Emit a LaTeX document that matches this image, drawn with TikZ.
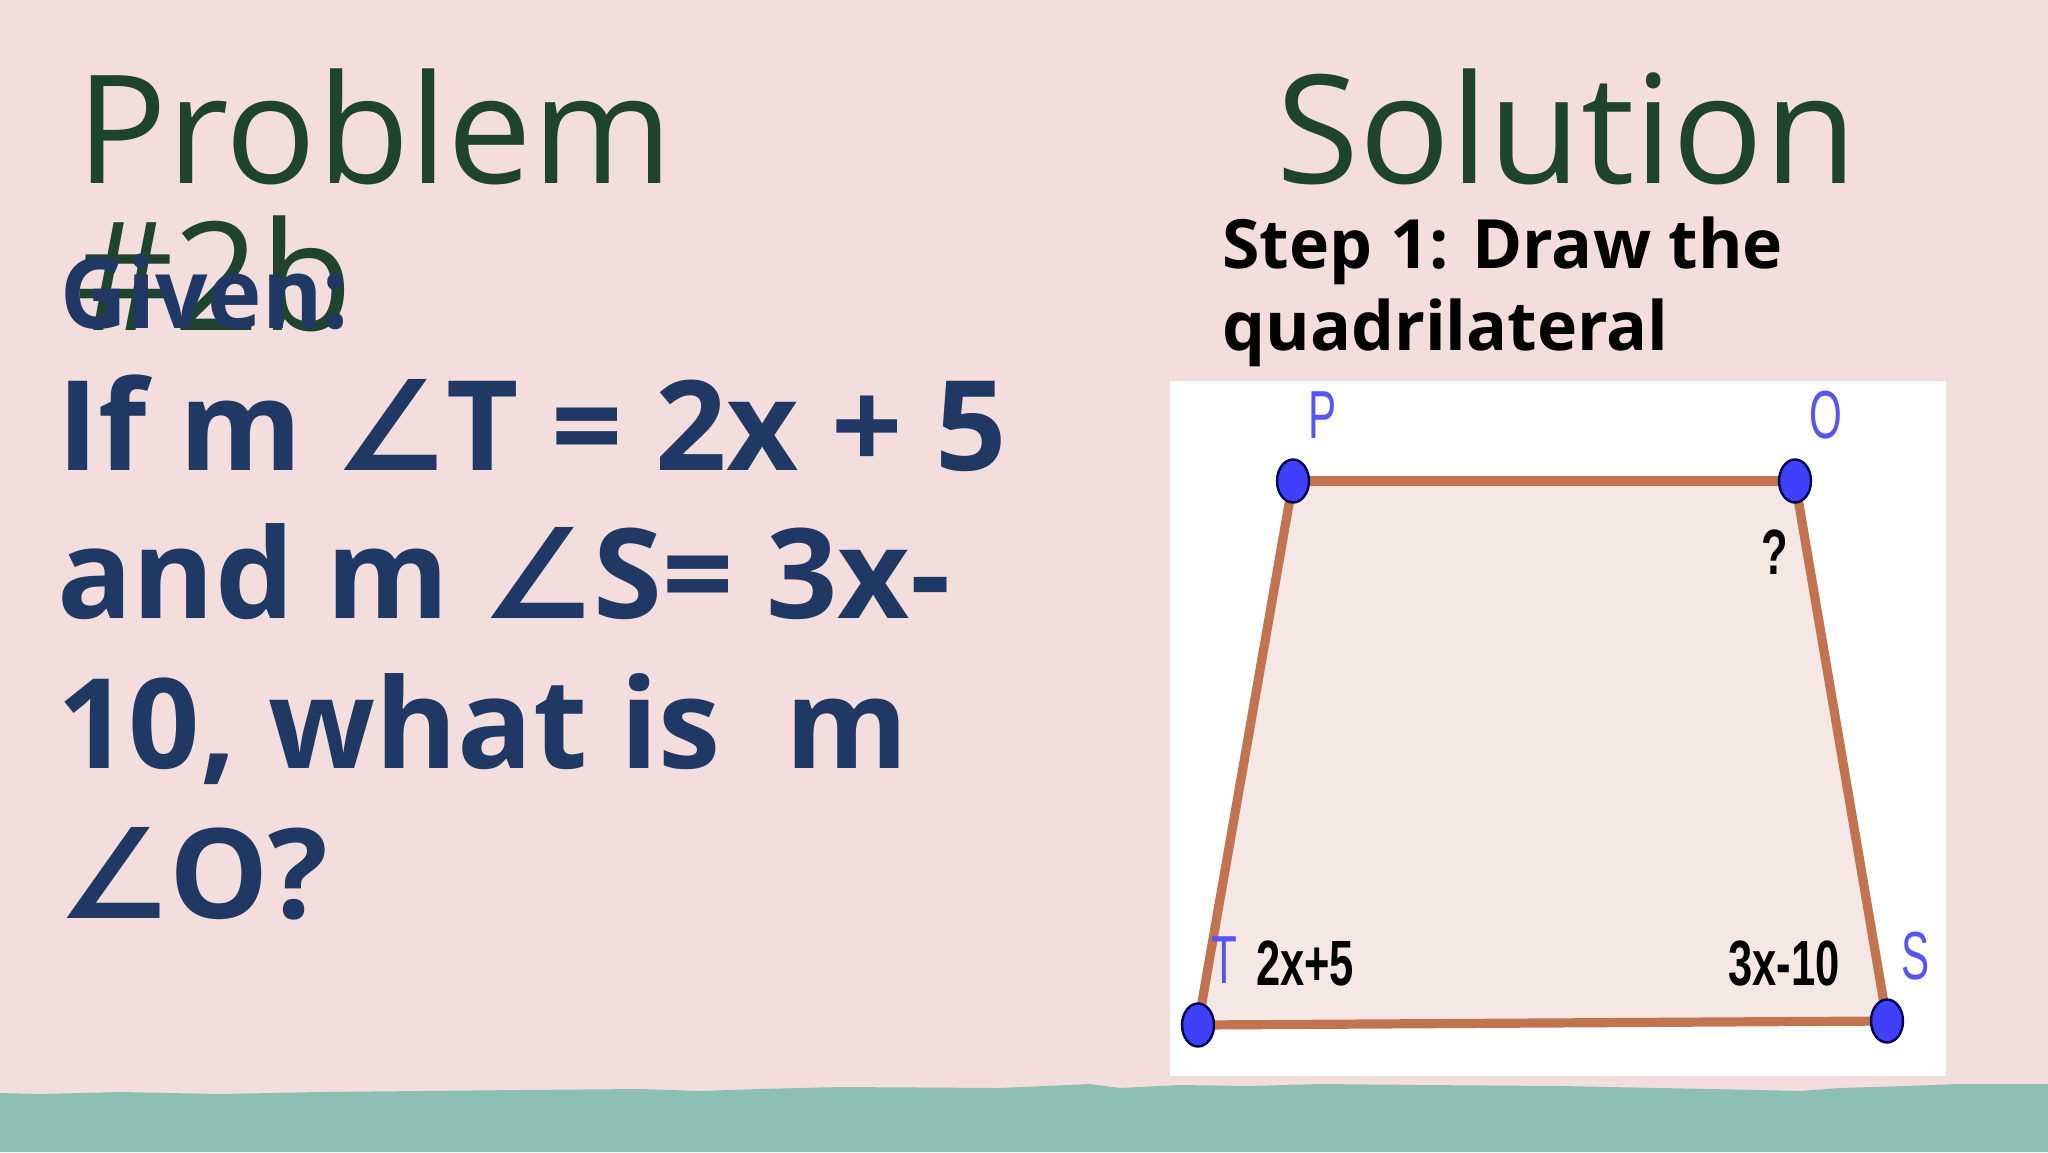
\documentclass[tikz,border=0pt]{standalone}
\usepackage{fontspec}
\setmainfont{Open Sans}
\newfontfamily\angfont{DejaVu Sans}
\newfontfamily\geofont{Liberation Sans}
\usetikzlibrary{shapes.geometric}
\definecolor{bgpink}{RGB}{243,222,221}
\definecolor{teal}{RGB}{141,191,180}
\definecolor{titlegreen}{RGB}{30,68,48}
\definecolor{navy}{RGB}{31,56,100}
\definecolor{quadfill}{RGB}{245,232,228}
\definecolor{edgebrown}{RGB}{194,116,80}
\definecolor{dotblue}{RGB}{64,64,250}
\definecolor{lblblue}{RGB}{85,85,245}
\newcommand{\ang}{{\angfont\bfseries ∠}}
\tikzset{
  title/.style={anchor=base west,inner sep=0,text=titlegreen,font=\fontsize{75.5}{75.5}\selectfont},
  question/.style={anchor=base west,inner sep=0,text=navy,font=\fontsize{62.5}{62.5}\selectfont\bfseries},
  steptext/.style={anchor=base west,inner sep=0,text=black,font=\fontsize{34}{34}\selectfont\bfseries},
  vdot/.style={ellipse,draw=black!70!blue,line width=1.2pt,fill=dotblue,minimum width=16pt,minimum height=21.5pt,inner sep=0},
  vlabel/.style={text=lblblue,inner sep=0,font=\geofont\fontsize{34}{34}\selectfont,xscale=0.62},
  anglabel/.style={text=black,inner sep=0,font=\geofont\bfseries\fontsize{32}{32}\selectfont,xscale=0.68},
  edge/.style={draw=edgebrown,line width=4.6pt}
}
\begin{document}
\begin{tikzpicture}[x=0.5pt,y=-0.5pt]
\useasboundingbox (0,0) rectangle (2048,1152);
\fill[bgpink] (0,0) rectangle (2048,1152);
% torn teal strip
\fill[teal] (0,1093) -- (40,1094) -- (120,1092) -- (220,1094) -- (320,1092) -- (420,1091) -- (520,1090) -- (640,1089) -- (700,1091) -- (760,1089) -- (840,1087) -- (1000,1088) -- (1090,1084) -- (1120,1088) -- (1180,1085) -- (1250,1086) -- (1320,1084) -- (1420,1085) -- (1560,1086) -- (1660,1088) -- (1760,1090) -- (1800,1091) -- (1840,1088) -- (1905,1086) -- (1960,1084) -- (2048,1084) -- (2048,1152) -- (0,1152) -- cycle;

% titles
\node[title] (prob1) at (76,183) {Problem};
\node[title] (prob2) at (76,330) {\#2b};
\node[title] (sol) at (1276,183) {Solution};

% given + question
\node[question,font=\fontsize{49}{49}\selectfont\bfseries,xscale=0.94] (given) at (60,328) {Given:};
\node[question] (q1) at (57,470) {If m \ang T = 2x + 5};
\node[question] (q2) at (57,618) {and m \ang S= 3x-};
\node[question] (q3) at (57,768) {10, what is \ m};
\node[question] (q4) at (57,918) {\ang O?};

% step text
\node[steptext] (s1) at (1222,268) {Step 1: Draw the};
\node[steptext] (s2) at (1222,350) {quadrilateral};

% figure panel
\fill[white] (1170,381) rectangle (1946,1076);
\coordinate (P) at (1293,481);
\coordinate (O) at (1795,481);
\coordinate (S) at (1887,1021);
\coordinate (T) at (1198,1025);
\fill[quadfill] (P) -- (O) -- (S) -- (T) -- cycle;
\draw[edge] (P) -- (O);
\draw[edge] (O) -- (S);
\draw[edge] (S) -- (T);
\draw[edge] (T) -- (P);
\node[vdot] (dP) at (P) {};
\node[vdot] (dO) at (O) {};
\node[vdot] (dS) at (S) {};
\node[vdot] (dT) at (T) {};
\node[vlabel] (lP) at (1323,415) {P};
\node[vlabel] (lO) at (1826,415) {O};
\node[vlabel] (lT) at (1224,960) {T};
\node[vlabel] (lS) at (1916,956) {S};
\node[anglabel] (aT) at (1305,963) {2x+5};
\node[anglabel] (aS) at (1784,963) {3x-10};
\node[anglabel] (aO) at (1775,552) {?};
\end{tikzpicture}
\end{document}
